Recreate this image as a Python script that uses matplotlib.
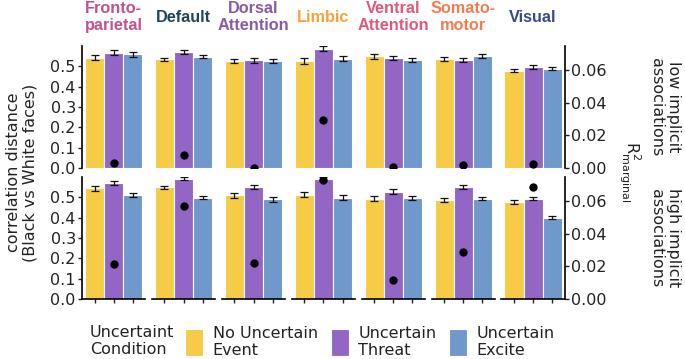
import matplotlib
matplotlib.use('Agg')
import matplotlib.pyplot as plt
from matplotlib.patches import Patch

# сети (фасеты) и условия
networks = ['Fronto-\nparietal', 'Default', 'Dorsal\nAttention', 'Limbic',
            'Ventral\nAttention', 'Somato-\nmotor', 'Visual']
network_colors = ['#C2518C', '#1C4660', '#8A5AA7', '#F6A43A',
                  '#E2587A', '#F17D52', '#3A4A8B']
conditions = ['No Uncertain\nEvent', 'Uncertain\nThreat', 'Uncertain\nExcite']
cond_colors = ['#F6CB45', '#9366C5', '#6F99CA']
rows = ['low implicit\nassociations', 'high implicit\nassociations']

# low implicit associations
low_no_event = [0.543, 0.534, 0.526, 0.526, 0.549, 0.534, 0.479]
low_threat = [0.567, 0.570, 0.529, 0.587, 0.539, 0.531, 0.497]
low_excite = [0.559, 0.548, 0.526, 0.538, 0.531, 0.552, 0.489]
low_no_event_se = [0.011, 0.008, 0.011, 0.013, 0.011, 0.010, 0.009]
low_threat_se = [0.011, 0.009, 0.011, 0.012, 0.010, 0.009, 0.008]
low_excite_se = [0.011, 0.008, 0.011, 0.012, 0.012, 0.009, 0.009]
low_r2 = [0.0031, 0.0078, 0.0, 0.0294, 0.0008, 0.0018, 0.0025]

# high implicit associations
high_no_event = [0.544, 0.550, 0.510, 0.513, 0.494, 0.489, 0.475]
high_threat = [0.570, 0.592, 0.550, 0.592, 0.528, 0.550, 0.494]
high_excite = [0.513, 0.499, 0.490, 0.499, 0.499, 0.494, 0.399]
high_no_event_se = [0.012, 0.008, 0.012, 0.013, 0.011, 0.010, 0.010]
high_threat_se = [0.011, 0.009, 0.011, 0.010, 0.011, 0.009, 0.009]
high_excite_se = [0.010, 0.008, 0.011, 0.011, 0.010, 0.009, 0.008]
high_r2 = [0.0214, 0.0570, 0.0220, 0.0733, 0.0116, 0.0290, 0.0688]

bars = [[low_no_event, low_threat, low_excite],
        [high_no_event, high_threat, high_excite]]
errs = [[low_no_event_se, low_threat_se, low_excite_se],
        [high_no_event_se, high_threat_se, high_excite_se]]
r2 = [low_r2, high_r2]

W, H = 685, 359
fig = plt.figure(figsize=(W / 100, H / 100), dpi=100)

text_color = '#222222'
fs = 11.5

# положение панелей в пикселях
left0 = 82
step = 69.9
pw = 63.4
row_top = [46, 177]
ph = 122

for r in range(2):
    for i in range(len(networks)):
        ax = fig.add_axes([(left0 + i * step) / W, 1 - (row_top[r] + ph) / H, pw / W, ph / H])
        ax2 = ax.twinx()
        for c in range(3):
            ax.bar(c, bars[r][c][i], width=1.0, color=cond_colors[c],
                   edgecolor='white', linewidth=0.8, zorder=2)
            ax.errorbar(c, bars[r][c][i], yerr=errs[r][c][i], fmt='none',
                        ecolor='#111111', elinewidth=0.9, capsize=3.2, capthick=0.9, zorder=3)
        ax2.plot([1], [r2[r][i]], 'o', color='black', markersize=5, zorder=4)

        ax.set_xlim(-0.657, 2.657)
        ax.set_ylim(0, 0.6)
        ax2.set_ylim(0, 0.075)

        for a in (ax, ax2):
            for s in a.spines.values():
                s.set_visible(False)
                s.set_linewidth(1.2)
            a.tick_params(length=3, width=1, colors=text_color, labelsize=fs, pad=1.5)
            a.set_yticks([])
            a.set_xticks([])

        if r == 1:
            ax.spines['bottom'].set_visible(True)
            ax.set_xticks([0, 1, 2])
            ax.set_xticklabels([])

        if i == 0:
            ax.spines['left'].set_visible(True)
            ax.set_yticks([0, 0.1, 0.2, 0.3, 0.4, 0.5])
            ax.set_yticklabels(['0.0', '0.1', '0.2', '0.3', '0.4', '0.5'])

        if i == len(networks) - 1:
            ax2.spines['right'].set_visible(True)
            ax2.set_yticks([0, 0.02, 0.04, 0.06])
            ax2.set_yticklabels(['0.00', '0.02', '0.04', '0.06'])

        if r == 0:
            ax.set_title(networks[i], color=network_colors[i], fontsize=11.7,
                         fontweight='bold', family='Liberation Sans', pad=0,
                         linespacing=1.15, y=1 + (row_top[0] - 17) / ph, va='center')

# подписи осей
fig.text(22 / W, 1 - 172.5 / H, 'correlation distance\n(Black vs White faces)',
         rotation=90, ha='center', va='center', fontsize=fs, color=text_color,
         linespacing=1.15)
fig.text(630 / W, 1 - 172 / H, r'R$^{2}_{\mathrm{marginal}}$', rotation=270,
         ha='center', va='center', fontsize=fs, color=text_color)
for r in range(2):
    fig.text(665 / W, 1 - (row_top[r] + ph / 2) / H, rows[r], rotation=270,
             ha='center', va='center', fontsize=fs, color=text_color, linespacing=1.15)

# легенда
handles = [Patch(facecolor=cond_colors[c], edgecolor='white', linewidth=0.8) for c in range(3)]
fig.legend(handles, conditions, loc='lower left', bbox_to_anchor=(185 / W, 1 / H),
           ncol=3, frameon=False, fontsize=fs, handlelength=1.13, handleheight=2.2,
           handletextpad=0.6, columnspacing=0.8, borderpad=0, borderaxespad=0,
           labelcolor=text_color)
fig.text(90 / W, 1 - 341 / H, 'Uncertaint\nCondition', ha='left', va='center',
         fontsize=fs, color=text_color, linespacing=1.15)

fig.savefig('out.png', dpi=100)
